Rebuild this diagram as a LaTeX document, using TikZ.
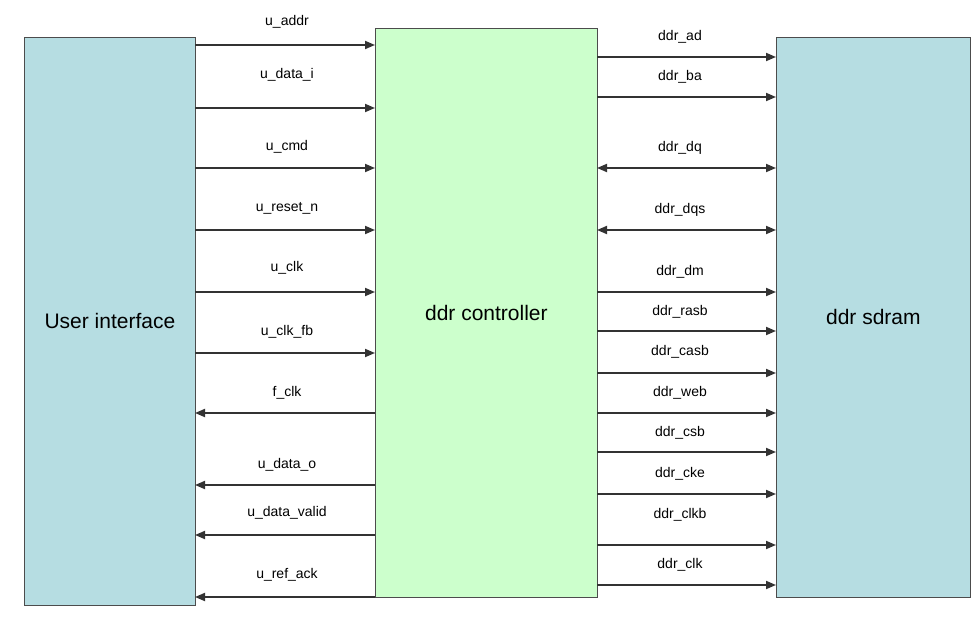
\documentclass[tikz,border=0pt]{standalone}
\usepackage{fontspec}
\setmainfont{Liberation Sans}
\usetikzlibrary{arrows.meta}
\definecolor{bluebox}{HTML}{B6DDE2}
\definecolor{greenbox}{HTML}{CCFFCC}
\definecolor{wire}{HTML}{333333}
\begin{document}
\begin{tikzpicture}[x=1pt,y=-1pt,
  blk/.style={draw=black!70,line width=0.8pt,inner sep=0},
  sig/.style={draw=wire,line width=1.8pt,-{Triangle[length=10pt,width=8pt]}},
  bsig/.style={draw=wire,line width=1.8pt,{Triangle[length=10pt,width=8pt]}-{Triangle[length=10pt,width=8pt]}},
  lab/.style={font=\fontsize{14}{16}\selectfont,inner sep=0},
  big/.style={font=\fontsize{21}{24}\selectfont}]
\useasboundingbox[fill=white] (0,0) rectangle (980,620);
\node[blk,fill=bluebox,minimum width=171pt,minimum height=568pt,anchor=north west] (ui) at (24,37) {};
\node[big] at (ui) {User interface};
\node[blk,fill=greenbox,minimum width=222pt,minimum height=569pt,anchor=north west] (dc) at (375,28) {};
\node[big] at (dc) {ddr controller};
\node[blk,fill=bluebox,minimum width=194pt,minimum height=560pt,anchor=north west] (sd) at (776,37) {};
\node[big] at (sd) {ddr sdram};
% left side
\foreach \y/\ly/\t/\d [count=\i] in {45/22/u\_addr/r,108/75/u\_data\_i/r,168/147/u\_cmd/r,230/208/u\_reset\_n/r,292/268/u\_clk/r,353/332/u\_clk\_fb/r,413/393/f\_clk/l,485/465/u\_data\_o/l,535/513/u\_data\_valid/l,597/575/u\_ref\_ack/l}{
  \coordinate (la\i) at (195,\y); \coordinate (lb\i) at (375,\y);
  \node[lab] (ll\i) at (287,\ly) {\t};
  \if\d r \draw[sig] (la\i) -- (lb\i); \else \draw[sig] (lb\i) -- (la\i); \fi
}
% right side
\foreach \y/\ly/\t/\d [count=\i] in {57/37/ddr\_ad/r,97/77/ddr\_ba/r,168/148/ddr\_dq/b,230/210/ddr\_dqs/b,292/272/ddr\_dm/r,331/312/ddr\_rasb/r,373/352/ddr\_casb/r,413/393/ddr\_web/r,452/433/ddr\_csb/r,494/474/ddr\_cke/r,545/515/ddr\_clkb/r,585/565/ddr\_clk/r}{
  \coordinate (ra\i) at (597,\y); \coordinate (rb\i) at (776,\y);
  \node[lab] (rl\i) at (680,\ly) {\t};
  \if\d r \draw[sig] (ra\i) -- (rb\i); \else \draw[bsig] (ra\i) -- (rb\i); \fi
}
\end{tikzpicture}
\end{document}
